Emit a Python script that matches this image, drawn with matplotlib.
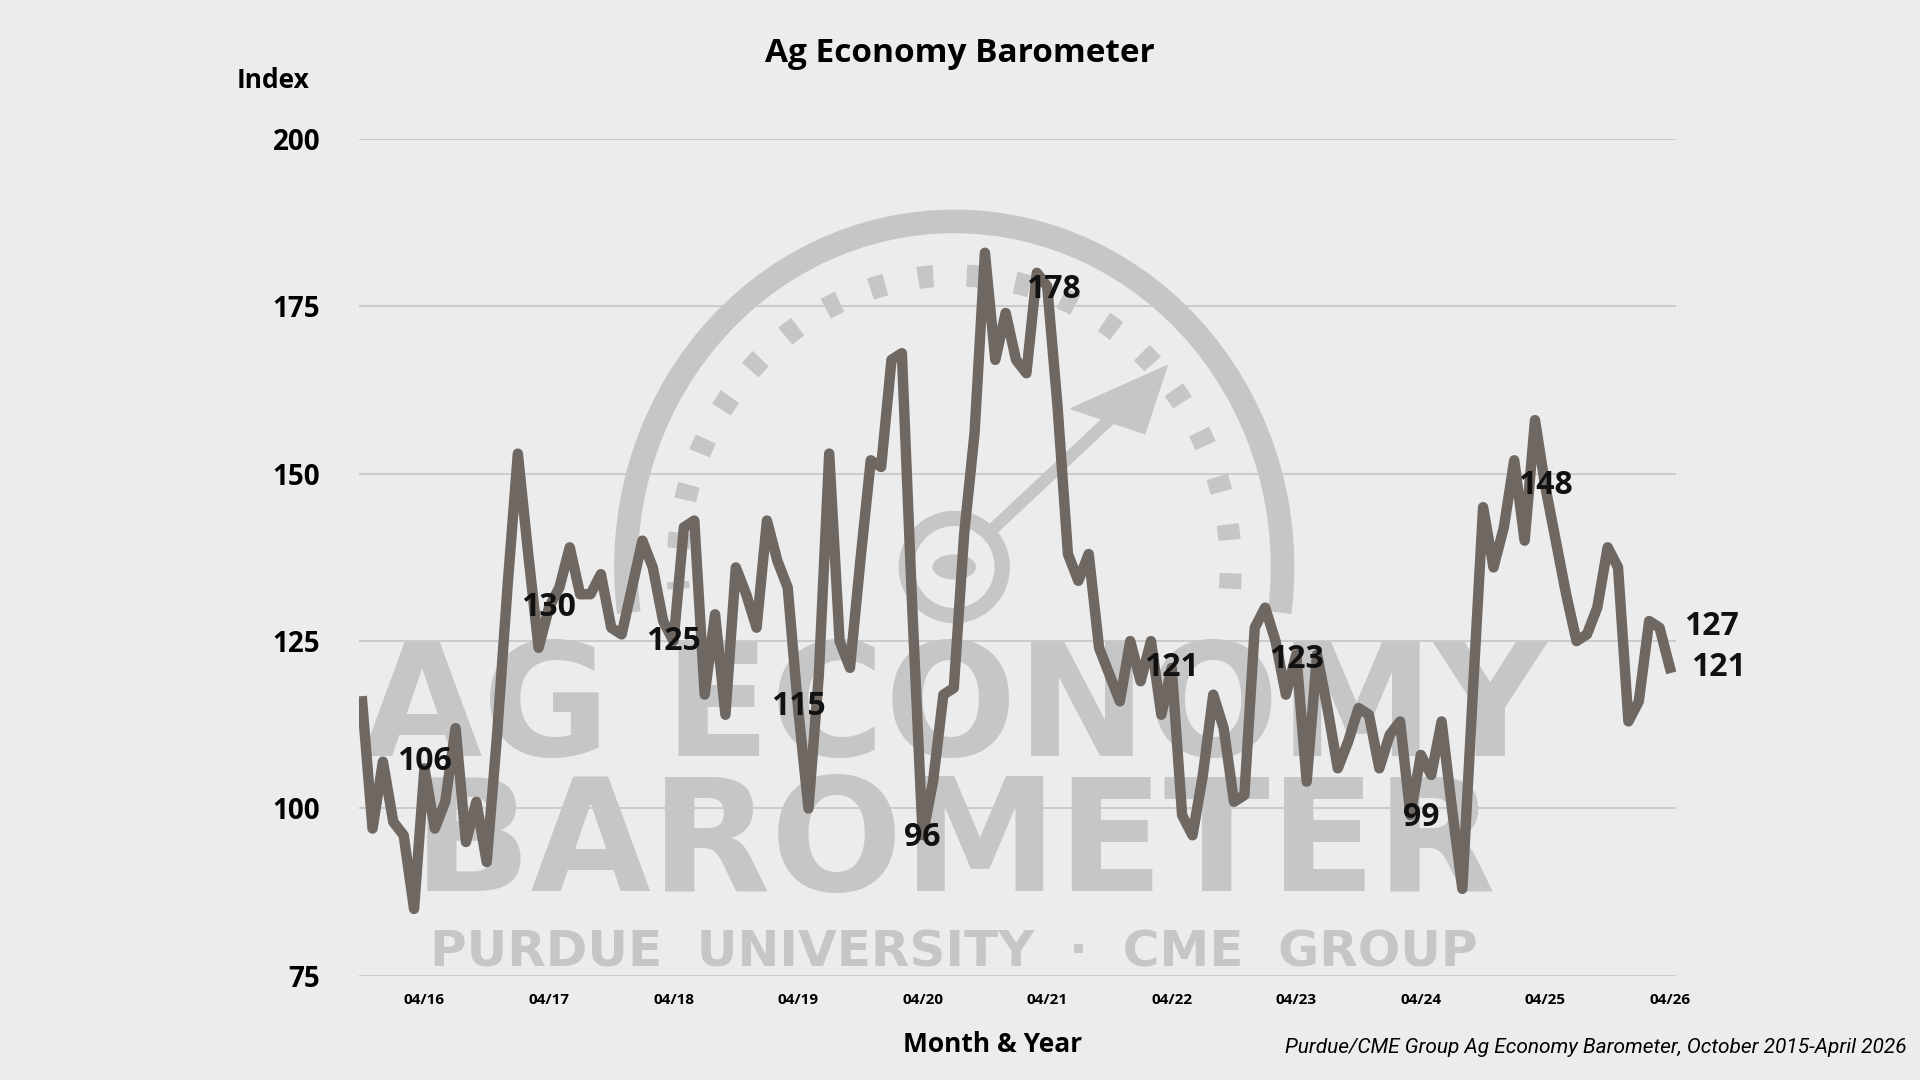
import numpy as np
import matplotlib.pyplot as plt
from matplotlib.patches import Arc, Circle, FancyArrow

plt.rcParams['font.family'] = ['Open Sans', 'DejaVu Sans']

# Monthly index, Oct 2015 - Apr 2026
values = [116, 97, 107, 98, 96, 85, 106, 97, 101, 112, 95, 101, 92, 111,
          133, 153, 138, 124, 130, 133, 139, 132, 132, 135, 127, 126, 133, 140, 136, 128,
          125, 142, 143, 117, 129, 114, 136, 132, 127, 143, 137, 133,
          115, 100, 120, 153, 125, 121, 137, 152, 151, 167, 168, 130,
          96, 104, 117, 118, 141, 156, 183, 167, 174, 167, 165, 180,
          178, 160, 138, 134, 138, 124, 120, 116, 125, 119, 125, 114,
          121, 99, 96, 105, 117, 112, 101, 102, 127, 130, 125, 117,
          123, 104, 123, 115, 106, 110, 115, 114, 106, 111, 113, 99,
          108, 105, 113, 100, 88, 117, 145, 136, 142, 152, 140, 158,
          148, 140, 132, 125, 126, 130, 139, 136, 113, 116, 128, 127, 121]
tick_labels = ['04/16', '04/17', '04/18', '04/19', '04/20', '04/21',
               '04/22', '04/23', '04/24', '04/25', '04/26']
tick_idx = [6 + 12 * k for k in range(len(tick_labels))]
# annotated points: (month index, label, x position, y position)
notes = [(6, '106', 6, 107), (18, '130', 18, 130), (30, '125', 30, 125),
         (42, '115', 42, 115.3), (54, '96', 54, 95.7), (66, '178', 66.6, 177.5),
         (78, '121', 78, 121), (90, '123', 90, 122.2), (102, '99', 102, 98.6),
         (114, '148', 114, 148.2), (125, '127', 130, 127.2), (126, '121', 130.7, 121)]

fig = plt.figure(figsize=(19.2, 10.8), dpi=100, facecolor='#ececec')
ax = fig.add_axes([0.187, 0.0964, 0.686, 0.775], zorder=2)
ax.set_facecolor('none')

# watermark
wm = '#c6c6c6'
cx, cy = 0.497, 0.475
kw = dict(transform=fig.transFigure, zorder=0.5, color=wm)
fig.patches.append(Arc((cx, cy), 0.342, 0.640, theta1=-14, theta2=194, lw=17, **kw))
fig.patches.append(Arc((cx, cy), 0.288, 0.540, theta1=-8, theta2=188, lw=16,
                       ls=(0, (0.7, 1.5)), **kw))
fig.patches.append(Circle((cx, cy), 0.011, **kw))
fig.patches.append(Arc((cx, cy), 0.05, 0.09, lw=11, **kw))
fig.patches.append(FancyArrow(cx + 0.02, cy + 0.035, 0.06, 0.1, width=0.007, head_width=0.045,
                              head_length=0.06, **kw))
fig.text(0.497, 0.34, 'AG ECONOMY', fontsize=112, ha='center', va='center',
         family='DejaVu Sans', weight='bold', **kw)
fig.text(0.497, 0.215, 'BAROMETER', fontsize=112, ha='center', va='center',
         family='DejaVu Sans', weight='bold', **kw)
fig.text(0.497, 0.118, 'PURDUE  UNIVERSITY  ·  CME  GROUP', fontsize=36,
         ha='center', va='center', family='DejaVu Sans', weight='bold', **kw)

x = np.arange(len(values))
ax.plot(x, values, color='#6e6762', lw=7.5, solid_joinstyle='round', zorder=3)

for i, txt, px, py in notes:
    ax.text(px, py, txt, fontsize=23, weight='bold', color='#111111',
            ha='center', va='center', zorder=4, clip_on=False)

ax.set_xlim(-0.3, 126.6)
ax.set_ylim(75, 200)
ax.set_yticks([75, 100, 125, 150, 175, 200])
ax.grid(axis='y', color='#c8c8c8', lw=1.3)
ax.set_axisbelow(True)
ax.set_xticks(tick_idx)
ax.set_xticklabels(tick_labels, fontsize=11, weight='bold')
ax.tick_params(length=0, pad=12)
ax.tick_params(axis='y', labelsize=20, pad=28)
for lab in ax.get_yticklabels():
    lab.set_weight('bold')
for s in ax.spines.values():
    s.set_visible(False)

fig.text(0.5, 0.95, 'Ag Economy Barometer', fontsize=24, weight='bold', ha='center', va='center')
fig.text(0.142, 0.925, 'Index', fontsize=19, weight='bold', ha='center', va='center')
fig.text(0.517, 0.033, 'Month & Year', fontsize=19, weight='bold', ha='center', va='center')
fig.text(0.993, 0.03, 'Purdue/CME Group Ag Economy Barometer, October 2015-April 2026',
         fontsize=15, style='italic', family='Roboto', ha='right', va='center')

fig.savefig('out.png', dpi=100, facecolor=fig.get_facecolor())
